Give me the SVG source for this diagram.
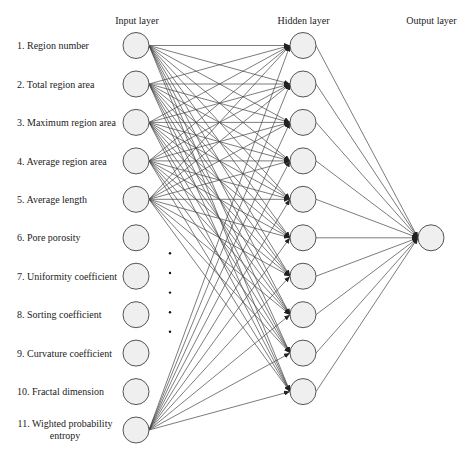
<svg xmlns="http://www.w3.org/2000/svg" width="474" height="460" viewBox="0 0 474 460">
<style>
.node{fill:#efefef;stroke:#555;stroke-width:1}
.edge{stroke:#444;stroke-width:0.7;fill:none;marker-end:url(#arr)}
text{font-family:"Liberation Serif","Times New Roman",serif;font-size:10px;fill:#222}
.c{text-anchor:middle}
.dot{fill:#111}
</style>
<defs>
<marker id="arr" markerWidth="6" markerHeight="5" refX="6" refY="2.5" orient="auto" markerUnits="userSpaceOnUse"><path d="M0,0 L6,2.5 L0,5 z" fill="#222"/></marker>
</defs>
<rect width="474" height="460" fill="#fff"/>
<text class="c" x="137" y="23.5">Input layer</text>
<text class="c" x="303.5" y="23.5">Hidden layer</text>
<text class="c" x="431.5" y="23.5">Output layer</text>
<g id="connectors">
<line class="edge" x1="149" y1="45.5" x2="290" y2="45.5"/><line class="edge" x1="149" y1="45.5" x2="290" y2="84"/><line class="edge" x1="149" y1="45.5" x2="290" y2="122.4"/><line class="edge" x1="149" y1="45.5" x2="290" y2="160.9"/><line class="edge" x1="149" y1="45.5" x2="290" y2="199.3"/><line class="edge" x1="149" y1="45.5" x2="290" y2="237.8"/><line class="edge" x1="149" y1="45.5" x2="290" y2="276.2"/><line class="edge" x1="149" y1="45.5" x2="290" y2="314.7"/><line class="edge" x1="149" y1="45.5" x2="290" y2="353.1"/><line class="edge" x1="149" y1="45.5" x2="290" y2="391.6"/>
<line class="edge" x1="149" y1="84" x2="290" y2="45.5"/><line class="edge" x1="149" y1="84" x2="290" y2="84"/><line class="edge" x1="149" y1="84" x2="290" y2="122.4"/><line class="edge" x1="149" y1="84" x2="290" y2="160.9"/><line class="edge" x1="149" y1="84" x2="290" y2="199.3"/><line class="edge" x1="149" y1="84" x2="290" y2="237.8"/><line class="edge" x1="149" y1="84" x2="290" y2="276.2"/><line class="edge" x1="149" y1="84" x2="290" y2="314.7"/><line class="edge" x1="149" y1="84" x2="290" y2="353.1"/><line class="edge" x1="149" y1="84" x2="290" y2="391.6"/>
<line class="edge" x1="149" y1="122.4" x2="290" y2="45.5"/><line class="edge" x1="149" y1="122.4" x2="290" y2="84"/><line class="edge" x1="149" y1="122.4" x2="290" y2="122.4"/><line class="edge" x1="149" y1="122.4" x2="290" y2="160.9"/><line class="edge" x1="149" y1="122.4" x2="290" y2="199.3"/><line class="edge" x1="149" y1="122.4" x2="290" y2="237.8"/><line class="edge" x1="149" y1="122.4" x2="290" y2="276.2"/><line class="edge" x1="149" y1="122.4" x2="290" y2="314.7"/><line class="edge" x1="149" y1="122.4" x2="290" y2="353.1"/><line class="edge" x1="149" y1="122.4" x2="290" y2="391.6"/>
<line class="edge" x1="149" y1="160.9" x2="290" y2="45.5"/><line class="edge" x1="149" y1="160.9" x2="290" y2="84"/><line class="edge" x1="149" y1="160.9" x2="290" y2="122.4"/><line class="edge" x1="149" y1="160.9" x2="290" y2="160.9"/><line class="edge" x1="149" y1="160.9" x2="290" y2="199.3"/><line class="edge" x1="149" y1="160.9" x2="290" y2="237.8"/><line class="edge" x1="149" y1="160.9" x2="290" y2="276.2"/><line class="edge" x1="149" y1="160.9" x2="290" y2="314.7"/><line class="edge" x1="149" y1="160.9" x2="290" y2="353.1"/><line class="edge" x1="149" y1="160.9" x2="290" y2="391.6"/>
<line class="edge" x1="149" y1="199.3" x2="290" y2="45.5"/><line class="edge" x1="149" y1="199.3" x2="290" y2="84"/><line class="edge" x1="149" y1="199.3" x2="290" y2="122.4"/><line class="edge" x1="149" y1="199.3" x2="290" y2="160.9"/><line class="edge" x1="149" y1="199.3" x2="290" y2="199.3"/><line class="edge" x1="149" y1="199.3" x2="290" y2="237.8"/><line class="edge" x1="149" y1="199.3" x2="290" y2="276.2"/><line class="edge" x1="149" y1="199.3" x2="290" y2="314.7"/><line class="edge" x1="149" y1="199.3" x2="290" y2="353.1"/><line class="edge" x1="149" y1="199.3" x2="290" y2="391.6"/>
<line class="edge" x1="149" y1="430" x2="290" y2="45.5"/><line class="edge" x1="149" y1="430" x2="290" y2="84"/><line class="edge" x1="149" y1="430" x2="290" y2="122.4"/><line class="edge" x1="149" y1="430" x2="290" y2="160.9"/><line class="edge" x1="149" y1="430" x2="290" y2="199.3"/><line class="edge" x1="149" y1="430" x2="290" y2="237.8"/><line class="edge" x1="149" y1="430" x2="290" y2="276.2"/><line class="edge" x1="149" y1="430" x2="290" y2="314.7"/><line class="edge" x1="149" y1="430" x2="290" y2="353.1"/><line class="edge" x1="149" y1="430" x2="290" y2="391.6"/>
<line class="edge" x1="316" y1="45.5" x2="418" y2="237.8"/><line class="edge" x1="316" y1="84" x2="418" y2="237.8"/><line class="edge" x1="316" y1="122.4" x2="418" y2="237.8"/><line class="edge" x1="316" y1="160.9" x2="418" y2="237.8"/><line class="edge" x1="316" y1="199.3" x2="418" y2="237.8"/><line class="edge" x1="316" y1="237.8" x2="418" y2="237.8"/><line class="edge" x1="316" y1="276.2" x2="418" y2="237.8"/><line class="edge" x1="316" y1="314.7" x2="418" y2="237.8"/><line class="edge" x1="316" y1="353.1" x2="418" y2="237.8"/><line class="edge" x1="316" y1="391.6" x2="418" y2="237.8"/>
</g>
<g id="ellipsis">
<circle class="dot" cx="170" cy="253.3" r="1.2"/><circle class="dot" cx="170" cy="273" r="1.2"/><circle class="dot" cx="170" cy="292.6" r="1.2"/><circle class="dot" cx="170" cy="312.3" r="1.2"/><circle class="dot" cx="170" cy="331.8" r="1.2"/>
</g>
<g id="in1"><circle class="node" cx="136" cy="45.5" r="13"/><text x="17" y="49">1. Region number</text></g>
<g id="in2"><circle class="node" cx="136" cy="84" r="13"/><text x="17" y="87.5">2. Total region area</text></g>
<g id="in3"><circle class="node" cx="136" cy="122.4" r="13"/><text x="17" y="126">3. Maximum region area</text></g>
<g id="in4"><circle class="node" cx="136" cy="160.9" r="13"/><text x="17" y="164.5">4. Average region area</text></g>
<g id="in5"><circle class="node" cx="136" cy="199.3" r="13"/><text x="17" y="203">5. Average length</text></g>
<g id="in6"><circle class="node" cx="136" cy="237.8" r="13"/><text x="17" y="241.3">6. Pore porosity</text></g>
<g id="in7"><circle class="node" cx="136" cy="276.2" r="13"/><text x="17" y="279.7">7. Uniformity coefficient</text></g>
<g id="in8"><circle class="node" cx="136" cy="314.7" r="13"/><text x="17" y="318.2">8. Sorting coefficient</text></g>
<g id="in9"><circle class="node" cx="136" cy="353.1" r="13"/><text x="17" y="356.6">9. Curvature coefficient</text></g>
<g id="in10"><circle class="node" cx="136" cy="391.6" r="13"/><text x="17" y="395">10. Fractal dimension</text></g>
<g id="in11"><circle class="node" cx="136" cy="430" r="13"/><text class="c" x="65" y="426.5">11. Wighted probability</text><text class="c" x="65" y="438.5">entropy</text></g>
<g id="h1"><circle class="node" cx="303" cy="45.5" r="13"/></g>
<g id="h2"><circle class="node" cx="303" cy="84" r="13"/></g>
<g id="h3"><circle class="node" cx="303" cy="122.4" r="13"/></g>
<g id="h4"><circle class="node" cx="303" cy="160.9" r="13"/></g>
<g id="h5"><circle class="node" cx="303" cy="199.3" r="13"/></g>
<g id="h6"><circle class="node" cx="303" cy="237.8" r="13"/></g>
<g id="h7"><circle class="node" cx="303" cy="276.2" r="13"/></g>
<g id="h8"><circle class="node" cx="303" cy="314.7" r="13"/></g>
<g id="h9"><circle class="node" cx="303" cy="353.1" r="13"/></g>
<g id="h10"><circle class="node" cx="303" cy="391.6" r="13"/></g>
<g id="out1"><circle class="node" cx="431" cy="237.8" r="13"/></g>
</svg>
